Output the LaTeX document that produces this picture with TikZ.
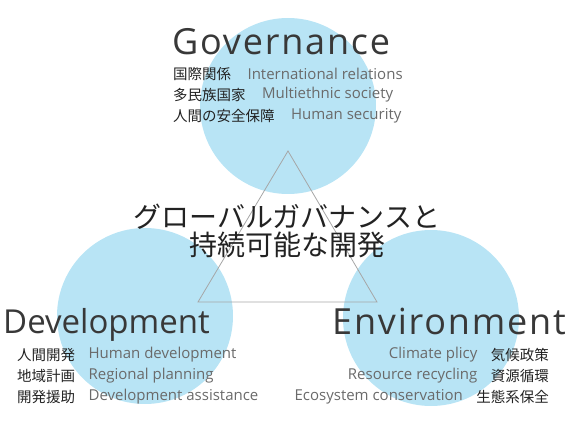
\documentclass[tikz,border=0pt]{standalone}
\usepackage{fontspec}
\setmainfont{Open Sans}
\newfontfamily\jpfont{Noto Sans CJK JP}
\newfontfamily\headfont{Open Sans}[LetterSpace=5]
\usetikzlibrary{positioning}
\definecolor{circleblue}{HTML}{B8E4F5}
\definecolor{itemgray}{HTML}{6A6A6A}
\definecolor{inkdark}{HTML}{222222}
\definecolor{headink}{HTML}{383838}
\tikzset{%
	area/.style     = {circle, fill=circleblue, minimum size=176pt, inner sep=0pt}, % field circle
	heading/.style  = {font=\headfont\fontsize{36}{38}\selectfont, text=headink, inner sep=0pt},
	narrowheading/.style = {heading, font=\fontsize{33}{35}\selectfont},
	jpitem/.style   = {font=\jpfont\fontsize{14.5}{16}\selectfont, text=inkdark, inner sep=0pt},
	enitem/.style   = {font=\fontsize{15}{17}\selectfont, text=itemgray, inner sep=0pt},
	title/.style    = {font=\jpfont\fontsize{28}{28}\selectfont, text=inkdark, inner sep=0pt},
	link/.style     = {draw=gray!70, line width=0.8pt},
}
\begin{document}
\begin{tikzpicture}[x=1pt,y=-1pt,node distance=13pt]
	\useasboundingbox (0,0) rectangle (581,422);
	% circles
	\node [area] (gov) at (288,106) {};
	\node [area] (dev) at (145,316) {};
	\node [area] (env) at (431,318) {};
	% triangle
	\coordinate (top) at (288,151);
	\coordinate (left) at (198,302);
	\coordinate (right) at (377,302);
	\draw[link] (top) -- (left) -- (right) -- cycle;
	% centre title
	\node [title] (goal1) at (287,217) {グローバルガバナンスと};
	\node [title] (goal2) at (287,245) {持続可能な開発};
	
	% Governance
	\node [heading,anchor=base west] (govh) at (172,55) {Governance};
	\node [jpitem,anchor=west] (g1j) at (173,74) {国際関係};
	\node [enitem] (g1e) [right=16pt of g1j] {International relations};
	\node [jpitem,anchor=west] (g2j) at (173,95) {多民族国家};
	\node [enitem] (g2e) [right=16pt of g2j] {Multiethnic society};
	\node [jpitem,anchor=west] (g3j) at (173,116) {人間の安全保障};
	\node [enitem] (g3e) [right=16pt of g3j] {Human security};
	
	% Development
	\node [narrowheading,anchor=base west] (devh) at (3,333) {Development};
	\node [jpitem,anchor=west] (d1j) at (17,355) {人間開発};
	\node [enitem] (d1e) [right=of d1j] {Human development};
	\node [jpitem,anchor=west] (d2j) at (17,376) {地域計画};
	\node [enitem] (d2e) [right=of d2j] {Regional planning};
	\node [jpitem,anchor=west] (d3j) at (17,397) {開発援助};
	\node [enitem] (d3e) [right=of d3j] {Development assistance};
	
	% Environment
	\node [heading,anchor=base east] (envh) at (566,334) {Environment};
	\node [jpitem,anchor=east] (e1j) at (549,355) {気候政策};
	\node [enitem] (e1e) [left=of e1j] {Climate plicy};
	\node [jpitem,anchor=east] (e2j) at (549,376) {資源循環};
	\node [enitem] (e2e) [left=of e2j] {Resource recycling};
	\node [jpitem,anchor=east] (e3j) at (549,397) {生態系保全};
	\node [enitem] (e3e) [left=of e3j] {Ecosystem conservation};
\end{tikzpicture}
\end{document}
